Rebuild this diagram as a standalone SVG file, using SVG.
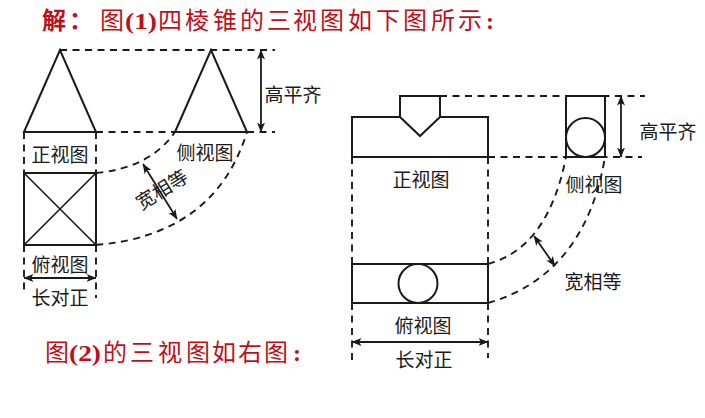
<svg xmlns="http://www.w3.org/2000/svg" width="705" height="418" viewBox="0 0 705 418">
<style>
.s{fill:none;stroke:#1a1a1a;stroke-width:2}
.t{fill:none;stroke:#1a1a1a;stroke-width:1.6}
.d{fill:none;stroke:#1a1a1a;stroke-width:1.9;stroke-dasharray:7 5.5}
.a{fill:none;stroke:#1a1a1a;stroke-width:1.8;marker-start:url(#h);marker-end:url(#h)}
.l{font-family:"Liberation Serif","Noto Sans CJK SC",serif;font-size:19px;fill:#1a1a1a;text-anchor:middle;dominant-baseline:central}
.r{font-family:"Liberation Serif","Noto Sans CJK SC",serif;font-size:24px;fill:#c00f18}
.b{font-weight:bold}
</style>
<defs>
<marker id="h" viewBox="0 0 10 8" refX="9.5" refY="4" markerWidth="10" markerHeight="8" markerUnits="userSpaceOnUse" orient="auto-start-reverse"><path d="M0,0L10,4L0,8L2.5,4Z" fill="#1a1a1a"/></marker>
</defs>
<rect width="705" height="418" fill="#fff"/>
<g id="title-1" class="r">
<text x="42" y="29" class="b">解</text><text x="69" y="29" class="b">：</text>
<text x="100" y="29">图</text><text x="125" y="29" class="b" textLength="32" lengthAdjust="spacingAndGlyphs">(1)</text>
<text x="158" y="29">四</text><text x="185" y="29">棱</text><text x="213" y="29">锥</text><text x="240" y="29">的</text><text x="267" y="29">三</text><text x="293" y="29">视</text><text x="320" y="29">图</text><text x="348" y="29">如</text><text x="376" y="29">下</text><text x="403" y="29">图</text><text x="431" y="29">所</text><text x="458" y="29">示</text><text x="486" y="29" class="b">:</text>
</g>
<g id="title-2" class="r">
<text x="45" y="361">图</text><text x="69" y="361" class="b" textLength="32" lengthAdjust="spacingAndGlyphs">(2)</text>
<text x="103" y="361">的</text><text x="130" y="361">三</text><text x="158" y="361">视</text><text x="186" y="361">图</text><text x="212" y="361">如</text><text x="238" y="361">右</text><text x="264" y="361">图</text><text x="293" y="361" class="b">:</text>
</g>
<g id="connectors">
<path class="d" d="M60,50H275M96,132H175M247,132H275"/>
<path class="d" d="M24,132V173M96,132V173M24,245V293M96,245V298"/>
<path class="d" d="M96,173Q150,168 175,132M96,245Q215,235 247,132"/>
<path class="a" d="M261,50V132"/>
<path class="a" d="M143,164L177,219"/>
<path class="a" d="M24,278H96"/>
<path class="d" d="M440,96H645M488,157H642"/>
<path class="d" d="M352,157V264M488,157V264M352,303V364M488,303V358"/>
<path class="d" d="M488,264Q548,248 566,157M488,303Q585,275 605,157"/>
<path class="a" d="M621,96V157"/>
<path class="a" d="M534,236L555,266"/>
<path class="a" d="M352,342H488"/>
</g>
<g id="front-1"><path class="s" d="M24,132L60,50L96,132Z"/><text class="l" x="60" y="155">正视图</text></g>
<g id="side-1"><path class="s" d="M175,132L211,50L247,132Z"/><text class="l" x="205" y="153">侧视图</text></g>
<g id="top-1"><rect class="s" x="24" y="173" width="72" height="72"/><path class="t" d="M24,173L96,245M96,173L24,245"/><text class="l" x="60" y="265">俯视图</text></g>
<g id="label-height-1"><text class="l" x="293" y="95">高平齐</text></g>
<g id="label-width-1"><text class="l" transform="translate(162 190) rotate(-32)" x="0" y="0">宽相等</text></g>
<g id="label-length-1"><text class="l" x="60" y="298">长对正</text></g>
<g id="front-2"><path class="s" d="M352,157V117H400V96H440V117H488V157ZM400,117L420,136L440,117"/><text class="l" x="421" y="180">正视图</text></g>
<g id="side-2"><rect class="s" x="566" y="96" width="39" height="61"/><circle class="s" cx="585.5" cy="137.5" r="19.5"/><text class="l" x="594" y="185">侧视图</text></g>
<g id="top-2"><rect class="s" x="352" y="264" width="136" height="39"/><circle class="s" cx="418" cy="283.5" r="19.5"/><text class="l" x="423" y="326">俯视图</text></g>
<g id="label-height-2"><text class="l" x="668" y="132">高平齐</text></g>
<g id="label-width-2"><text class="l" x="593" y="282">宽相等</text></g>
<g id="label-length-2"><text class="l" x="424" y="360">长对正</text></g>
</svg>
